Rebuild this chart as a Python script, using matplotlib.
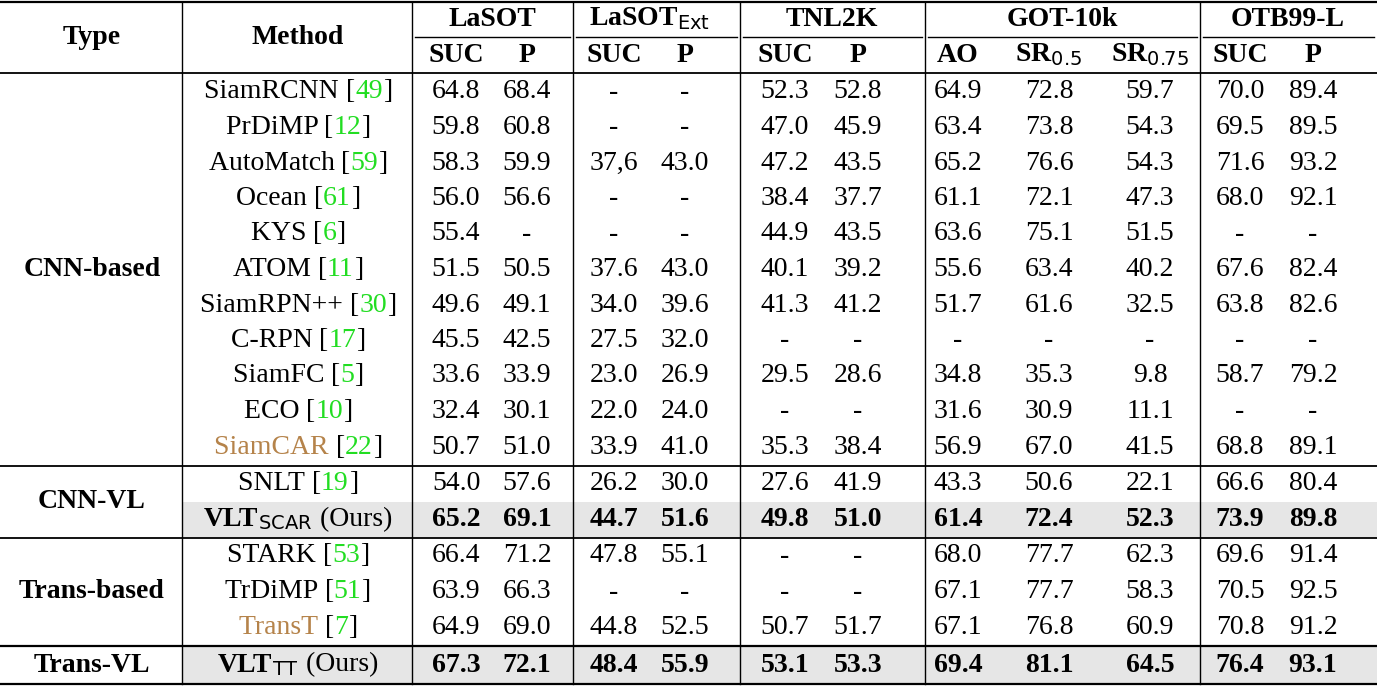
import matplotlib
matplotlib.use("Agg")
import matplotlib.pyplot as plt

plt.rcParams['mathtext.fontset'] = 'custom'
plt.rcParams['mathtext.rm'] = 'DejaVu Sans'
plt.rcParams['mathtext.bf'] = 'Liberation Serif:bold'
FONT = 'Liberation Serif'

groups = ['LaSOT', r'LaSOT$_{\rm Ext}$', 'TNL2K', 'GOT-10k', 'OTB99-L']
subcols = ['SUC', 'P', 'SUC', 'P', 'SUC', 'P', 'AO', r'SR$_{0.5}$', r'SR$_{0.75}$', 'SUC', 'P']
types = [('CNN-based', 0, 10), ('CNN-VL', 11, 12), ('Trans-based', 13, 15), ('Trans-VL', 16, 16)]
methods = ['SiamRCNN', 'PrDiMP', 'AutoMatch', 'Ocean', 'KYS', 'ATOM', 'SiamRPN++', 'C-RPN',
           'SiamFC', 'ECO', 'SiamCAR', 'SNLT', r'VLT$_{\rm SCAR}$', 'STARK', 'TrDiMP', 'TransT', r'VLT$_{\rm TT}$']
refs = ['49', '12', '59', '61', '6', '11', '30', '17', '5', '10', '22', '19', None, '53', '51', '7', None]
brown = ['SiamCAR', 'TransT']
bold_rows = [12, 16]
values = [
    ['64.8', '68.4', '-', '-', '52.3', '52.8', '64.9', '72.8', '59.7', '70.0', '89.4'],
    ['59.8', '60.8', '-', '-', '47.0', '45.9', '63.4', '73.8', '54.3', '69.5', '89.5'],
    ['58.3', '59.9', '37,6', '43.0', '47.2', '43.5', '65.2', '76.6', '54.3', '71.6', '93.2'],
    ['56.0', '56.6', '-', '-', '38.4', '37.7', '61.1', '72.1', '47.3', '68.0', '92.1'],
    ['55.4', '-', '-', '-', '44.9', '43.5', '63.6', '75.1', '51.5', '-', '-'],
    ['51.5', '50.5', '37.6', '43.0', '40.1', '39.2', '55.6', '63.4', '40.2', '67.6', '82.4'],
    ['49.6', '49.1', '34.0', '39.6', '41.3', '41.2', '51.7', '61.6', '32.5', '63.8', '82.6'],
    ['45.5', '42.5', '27.5', '32.0', '-', '-', '-', '-', '-', '-', '-'],
    ['33.6', '33.9', '23.0', '26.9', '29.5', '28.6', '34.8', '35.3', '9.8', '58.7', '79.2'],
    ['32.4', '30.1', '22.0', '24.0', '-', '-', '31.6', '30.9', '11.1', '-', '-'],
    ['50.7', '51.0', '33.9', '41.0', '35.3', '38.4', '56.9', '67.0', '41.5', '68.8', '89.1'],
    ['54.0', '57.6', '26.2', '30.0', '27.6', '41.9', '43.3', '50.6', '22.1', '66.6', '80.4'],
    ['65.2', '69.1', '44.7', '51.6', '49.8', '51.0', '61.4', '72.4', '52.3', '73.9', '89.8'],
    ['66.4', '71.2', '47.8', '55.1', '-', '-', '68.0', '77.7', '62.3', '69.6', '91.4'],
    ['63.9', '66.3', '-', '-', '-', '-', '67.1', '77.7', '58.3', '70.5', '92.5'],
    ['64.9', '69.0', '44.8', '52.5', '50.7', '51.7', '67.1', '76.8', '60.9', '70.8', '91.2'],
    ['67.3', '72.1', '48.4', '55.9', '53.1', '53.3', '69.4', '81.1', '64.5', '76.4', '93.1'],
]

W, H = 1377, 686
fig = plt.figure(figsize=(W / 100, H / 100), dpi=100)
ax = fig.add_axes([0, 0, 1, 1])
ax.set_xlim(0, W); ax.set_ylim(H, 0); ax.axis('off')

FS = 20
col_x = [456, 527, 614, 685, 785, 858, 958, 1049, 1150, 1240, 1313]
grp_x = [492, 650, 832, 1062, 1288]
row_y = [92 + 35.5 * i for i in range(11)] + [484, 520, 556, 592, 628, 665]
vlines = [182, 412, 573, 740, 925, 1200]

for r in bold_rows:
    y = row_y[r]
    ax.add_patch(plt.Rectangle((183, y - 18), W - 183, 36, color='#e6e6e6', lw=0, zorder=0))

for y, lw in [(2, 1.6), (73, 1.3), (466, 1.3), (538, 1.3), (646, 1.6), (684, 1.6)]:
    ax.plot([0, W], [y, y], color='black', lw=lw)
for x0, x1 in [(412, 573), (573, 740), (740, 925), (925, 1200), (1200, W)]:
    ax.plot([x0 + 3, x1 - 3], [37, 37], color='black', lw=1.0)
for x in vlines:
    ax.plot([x, x], [2, 684], color='black', lw=1.0)

kw = dict(fontfamily=FONT, fontsize=FS, ha='center', va='center')
ax.text(92, 37, 'Type', fontweight='bold', **kw)
ax.text(298, 37, 'Method', fontweight='bold', **kw)
for g, x in zip(groups, grp_x):
    ax.text(x, 19, g, fontweight='bold', **kw)
for s, x in zip(subcols, col_x):
    ax.text(x, 55, s, fontweight='bold', **kw)

for name, a, b in types:
    ax.text(92, (row_y[a] + row_y[b]) / 2, name, fontweight='bold', **kw)

fig.canvas.draw()
rend = fig.canvas.get_renderer()

def pieces_centered(x, y, pieces):
    objs = []
    for txt, col, wt in pieces:
        t = ax.text(0, y, txt, fontfamily=FONT, fontsize=FS, color=col, fontweight=wt,
                    ha='left', va='center')
        objs.append(t)
    widths = [t.get_window_extent(rend).width for t in objs]
    total = sum(widths)
    cur = x - total / 2
    for t, w in zip(objs, widths):
        t.set_x(cur)
        cur += w

green = '#22dd22'
for i, (m, r) in enumerate(zip(methods, refs)):
    y = row_y[i]
    col = '#b5834a' if m in brown else 'black'
    if r is None:
        pieces_centered(298, y, [('VLT', 'black', 'bold'), (m[3:], 'black', 'normal'), (' (Ours)', 'black', 'normal')])
    else:
        pieces_centered(298, y, [(m + ' ', col, 'normal'), ('[', 'black', 'normal'),
                                 (r, green, 'normal'), (']', 'black', 'normal')])
    for j, v in enumerate(values[i]):
        ax.text(col_x[j], y, v, fontweight='bold' if i in bold_rows else 'normal', **kw)

fig.savefig('out.png', dpi=100)
